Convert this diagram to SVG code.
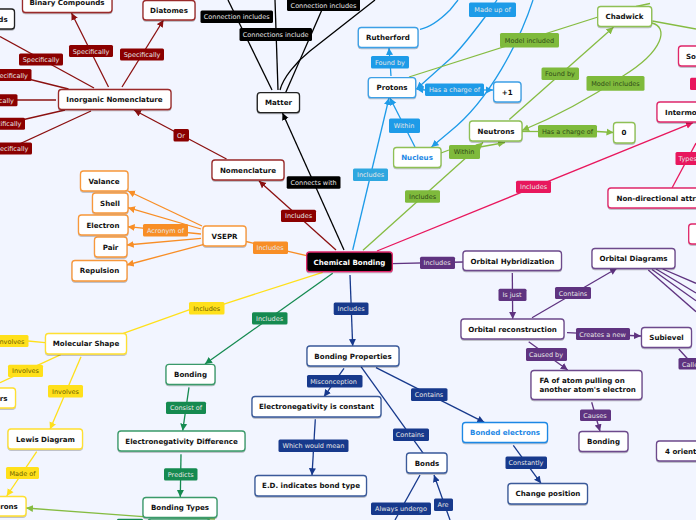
<svg xmlns="http://www.w3.org/2000/svg" width="696" height="520" viewBox="0 0 696 520">
<style>
text{font-family:"DejaVu Sans","Liberation Sans",sans-serif;font-size:6.5px;text-anchor:middle}
.n rect{fill:#fff;stroke-width:1.3;filter:url(#sh)}
.n text{font-weight:700;fill:#111;font-size:7.1px}
.l text{fill:#e6e6e6}
.c path{fill:none;stroke-width:1.3}
.red rect{stroke:#9a2a2a}.blk rect{stroke:#222}.blu rect{stroke:#3ea0e6}.grn rect{stroke:#8fc054}.pnk rect{stroke:#e0286b}.org rect{stroke:#f8983a}.ylw rect{stroke:#ffe030}.dgn rect{stroke:#3a9a6a}.nav rect{stroke:#3a5a9a}.pur rect{stroke:#6d4a8c}
.l.red rect{fill:#8b0000;stroke:none}.l.blk rect{fill:#000;stroke:none}.l.blu rect{fill:#1e9be8;stroke:none}.l.lbl rect{fill:#2ea7e0;stroke:none}.l.grn rect{fill:#7fba3c;stroke:none}.l.pnk rect{fill:#e8175d;stroke:none}.l.org rect{fill:#f88e26;stroke:none}.l.ylw rect{fill:#ffe01b;stroke:none}.l.dgn rect{fill:#158a50;stroke:none}.l.nav rect{fill:#17398c;stroke:none}.l.pur rect{fill:#5f3380;stroke:none}
.l.grn text{fill:#2f4a18}.l.ylw text{fill:#6e6000}
.c .red{stroke:#8b1010}.c .blk{stroke:#000}.c .blu{stroke:#1e9be8}.c .grn{stroke:#86bc42}.c .pnk{stroke:#e8175d}.c .org{stroke:#f88e26}.c .ylw{stroke:#ffe01b}.c .dgn{stroke:#158a50}.c .nav{stroke:#17398c}.c .pur{stroke:#5f3380}
</style>
<defs>
<filter id="sh" x="-10%" y="-20%" width="120%" height="150%"><feDropShadow dx="0" dy="0.8" stdDeviation="0.4" flood-color="#000" flood-opacity="0.35"/></filter>
<marker id="m-red" markerUnits="userSpaceOnUse" markerWidth="8" markerHeight="8" refX="7" refY="4" orient="auto"><path d="M0,0.5L7,4L0,7.5Z" fill="#8b1010"/></marker>
<marker id="m-blk" markerUnits="userSpaceOnUse" markerWidth="8" markerHeight="8" refX="7" refY="4" orient="auto"><path d="M0,0.5L7,4L0,7.5Z" fill="#000"/></marker>
<marker id="m-blu" markerUnits="userSpaceOnUse" markerWidth="8" markerHeight="8" refX="7" refY="4" orient="auto"><path d="M0,0.5L7,4L0,7.5Z" fill="#1e9be8"/></marker>
<marker id="m-grn" markerUnits="userSpaceOnUse" markerWidth="8" markerHeight="8" refX="7" refY="4" orient="auto"><path d="M0,0.5L7,4L0,7.5Z" fill="#86bc42"/></marker>
<marker id="m-pnk" markerUnits="userSpaceOnUse" markerWidth="8" markerHeight="8" refX="7" refY="4" orient="auto"><path d="M0,0.5L7,4L0,7.5Z" fill="#e8175d"/></marker>
<marker id="m-org" markerUnits="userSpaceOnUse" markerWidth="8" markerHeight="8" refX="7" refY="4" orient="auto"><path d="M0,0.5L7,4L0,7.5Z" fill="#f88e26"/></marker>
<marker id="m-ylw" markerUnits="userSpaceOnUse" markerWidth="8" markerHeight="8" refX="7" refY="4" orient="auto"><path d="M0,0.5L7,4L0,7.5Z" fill="#ffe01b"/></marker>
<marker id="m-dgn" markerUnits="userSpaceOnUse" markerWidth="8" markerHeight="8" refX="7" refY="4" orient="auto"><path d="M0,0.5L7,4L0,7.5Z" fill="#158a50"/></marker>
<marker id="m-nav" markerUnits="userSpaceOnUse" markerWidth="8" markerHeight="8" refX="7" refY="4" orient="auto"><path d="M0,0.5L7,4L0,7.5Z" fill="#17398c"/></marker>
<marker id="m-pur" markerUnits="userSpaceOnUse" markerWidth="8" markerHeight="8" refX="7" refY="4" orient="auto"><path d="M0,0.5L7,4L0,7.5Z" fill="#5f3380"/></marker>
</defs>
<rect width="696" height="520" fill="#f2f5ff"/>
<g id="connectors" class="c">
<path class="red" d="M336 250L259 181" marker-end="url(#m-red)"/>
<path class="red" d="M226.500 159L134 110" marker-end="url(#m-red)"/>
<path class="red" d="M108.500 87L71.500 13" marker-end="url(#m-red)"/>
<path class="red" d="M122 87L163.500 20" marker-end="url(#m-red)"/>
<path class="red" d="M94 88L0 36.500"/>
<path class="red" d="M68.500 89L0 72"/>
<path class="red" d="M56 100L0 100"/>
<path class="red" d="M65 110L0 125"/>
<path class="red" d="M91 111L0 153"/>
<path class="blk" d="M344 250L282.500 113" marker-end="url(#m-blk)"/>
<path class="blk" d="M272 90L228 0"/>
<path class="blk" d="M278 90L275 0"/>
<path class="blk" d="M285.700 92.500L335 -20"/>
<path class="blk" d="M280 90C283 78 296 62 310 51L375 0"/>
<path class="blu" d="M352.700 250L389 98" marker-end="url(#m-blu)"/>
<path class="blu" d="M415 147L390 98" marker-end="url(#m-blu)"/>
<path class="blu" d="M391 76L389 48" marker-end="url(#m-blu)"/>
<path class="blu" d="M425 90L416.500 89" marker-end="url(#m-blu)"/>
<path class="blu" d="M484 90L493 90" marker-end="url(#m-blu)"/>
<path class="blu" d="M497 0L485 17C473 33 460 50 450 59L416.500 89" marker-end="url(#m-blu)"/>
<path class="blu" d="M533 0C520 40 490 100 450 131.500L431.500 147" marker-end="url(#m-blu)"/>
<path class="blu" d="M420 29.300C432 27 442 18 450 10L458 0"/>
<path class="grn" d="M363 250.300L483 142.500" marker-end="url(#m-grn)"/>
<path class="grn" d="M441 153L449 150"/>
<path class="grn" d="M480 147L505 142.500" marker-end="url(#m-grn)"/>
<path class="grn" d="M598 17L409 77"/>
<path class="grn" d="M509.300 119.500L613.500 27.300" marker-end="url(#m-grn)"/>
<path class="grn" d="M652 23C668 27 665 50 623 76C590 98 560 115 522 130.500" marker-end="url(#m-grn)"/>
<path class="grn" d="M652.300 21L696 29"/>
<path class="grn" d="M636 6.500L650 3.500"/>
<path class="grn" d="M522 131.500L538 131.500"/>
<path class="grn" d="M597 131.500L613.500 132.500" marker-end="url(#m-grn)"/>
<path class="grn" d="M215 519L143 516.700L26 508" marker-end="url(#m-grn)"/>
<path class="pnk" d="M377 251L693 122.700" marker-end="url(#m-pnk)"/>
<path class="pnk" d="M672 188L696 143"/>
<path class="org" d="M306.700 255.700L246 241.500"/>
<path class="org" d="M202 226L128 191" marker-end="url(#m-org)"/>
<path class="org" d="M201 229L128 207.700" marker-end="url(#m-org)"/>
<path class="org" d="M201 234L127.700 226.700" marker-end="url(#m-org)"/>
<path class="org" d="M201 238.300L126.700 245" marker-end="url(#m-org)"/>
<path class="org" d="M204 244.300L126.700 265" marker-end="url(#m-org)"/>
<path class="ylw" d="M322.700 272.300L224 304L189 310L123.300 333.300"/>
<path class="ylw" d="M45 342.700L28 341"/>
<path class="ylw" d="M60.700 354.700L0 382.700"/>
<path class="ylw" d="M81 356.700L50 429.300" marker-end="url(#m-ylw)"/>
<path class="ylw" d="M36.700 451.700L6.700 496" marker-end="url(#m-ylw)"/>
<path class="dgn" d="M332.700 273.300L205 364" marker-end="url(#m-dgn)"/>
<path class="dgn" d="M189 387.300L182.700 430.700" marker-end="url(#m-dgn)"/>
<path class="dgn" d="M181 454.300L180.300 497" marker-end="url(#m-dgn)"/>
<path class="nav" d="M350 275L352.700 346" marker-end="url(#m-nav)"/>
<path class="nav" d="M344 368.300L324 396.700" marker-end="url(#m-nav)"/>
<path class="nav" d="M315.300 419.300L312 475.300" marker-end="url(#m-nav)"/>
<path class="nav" d="M376 367.700L484.300 422.300" marker-end="url(#m-nav)"/>
<path class="nav" d="M361 366.700L423.300 453.300"/>
<path class="nav" d="M513.300 445.300L541 483.300" marker-end="url(#m-nav)"/>
<path class="nav" d="M420 475L395 520"/>
<path class="nav" d="M450 520L434 475" marker-end="url(#m-nav)"/>
<path class="pur" d="M392 263.700L463 262"/>
<path class="pur" d="M512.300 273L512.700 319" marker-end="url(#m-pur)"/>
<path class="pur" d="M532 317.700L617 268.300" marker-end="url(#m-pur)"/>
<path class="pur" d="M567 332.700L641 336" marker-end="url(#m-pur)"/>
<path class="pur" d="M528.700 341.700L567.700 370" marker-end="url(#m-pur)"/>
<path class="pur" d="M591.700 402.300L600 431.300" marker-end="url(#m-pur)"/>
<path class="pur" d="M662.700 269L696 283.300"/>
<path class="pur" d="M656 269L696 293"/>
<path class="pur" d="M652 269.500L696 300.700"/>
<path class="pur" d="M648.300 270L696 311.700"/>
<path class="pur" d="M678.700 349L696 368"/>
</g>
<g id="edge-labels">
<g class="l red"><rect x="19" y="53.500" width="44" height="12" rx="1.500"/><text x="41" y="62">Specifically</text></g>
<g class="l red"><rect x="69" y="45" width="44" height="12" rx="1.500"/><text x="91" y="53.500">Specifically</text></g>
<g class="l red"><rect x="120" y="48.500" width="44" height="12" rx="1.500"/><text x="142" y="57">Specifically</text></g>
<g class="l red"><rect x="-12.500" y="69" width="44" height="12" rx="1.500"/><text x="9.500" y="77.500">Specifically</text></g>
<g class="l red"><rect x="-26.500" y="94.300" width="44" height="12" rx="1.500"/><text x="-4.500" y="102.800">Specifically</text></g>
<g class="l red"><rect x="-19" y="117.800" width="44" height="12" rx="1.500"/><text x="3" y="126.300">Specifically</text></g>
<g class="l red"><rect x="-12" y="142.500" width="44" height="12" rx="1.500"/><text x="10" y="151">Specifically</text></g>
<g class="l red"><rect x="173.500" y="129" width="15.500" height="12.500" rx="1.500"/><text x="181" y="137.800">Or</text></g>
<g class="l red"><rect x="281" y="209.700" width="35" height="12.300" rx="1.500"/><text x="298.500" y="218.200">Includes</text></g>
<g class="l blk"><rect x="200.500" y="10.500" width="72.500" height="12.500" rx="1.500"/><text x="236.700" y="19">Connection includes</text></g>
<g class="l blk"><rect x="239.500" y="28" width="72.500" height="13" rx="1.500"/><text x="275.700" y="36.800">Connections include</text></g>
<g class="l blk"><rect x="287" y="-1" width="73" height="12" rx="1.500"/><text x="323.500" y="7.800">Connection includes</text></g>
<g class="l blk"><rect x="286.700" y="176.300" width="53.800" height="12.400" rx="1.500"/><text x="313.600" y="184.800">Connects with</text></g>
<g class="l blu"><rect x="371" y="56" width="38" height="12.500" rx="1.500"/><text x="390" y="64.700">Found by</text></g>
<g class="l blu"><rect x="389" y="118.500" width="31" height="14.500" rx="1.500"/><text x="404" y="128">Within</text></g>
<g class="l blu"><rect x="425" y="83.500" width="59" height="12.500" rx="1.500"/><text x="454.500" y="92.200">Has a charge of</text></g>
<g class="l blu"><rect x="469" y="2.500" width="47" height="14.500" rx="1.500"/><text x="492.500" y="12">Made up of</text></g>
<g class="l lbl"><rect x="353" y="168.500" width="35" height="12.500" rx="1.500"/><text x="370.500" y="177">Includes</text></g>
<g class="l grn"><rect x="500" y="33" width="59" height="14.500" rx="1.500"/><text x="529.500" y="42.500">Model included</text></g>
<g class="l grn"><rect x="541.500" y="67.500" width="37.500" height="12.500" rx="1.500"/><text x="560" y="76">Found by</text></g>
<g class="l grn"><rect x="586.500" y="76" width="58" height="14.700" rx="1.500"/><text x="615.500" y="85.600">Model includes</text></g>
<g class="l grn"><rect x="538" y="125" width="59" height="12.500" rx="1.500"/><text x="567.500" y="133.700">Has a charge of</text></g>
<g class="l grn"><rect x="449" y="145" width="31" height="14" rx="1.500"/><text x="464" y="154">Within</text></g>
<g class="l grn"><rect x="405" y="190.300" width="35" height="12.400" rx="1.500"/><text x="422.500" y="199">Includes</text></g>
<g class="l pnk"><rect x="516" y="180.700" width="35" height="12.300" rx="1.500"/><text x="533.500" y="189.200">Includes</text></g>
<g class="l pnk"><rect x="690" y="77.700" width="20" height="12.300" rx="1.500"/></g>
<g class="l pnk"><rect x="675.500" y="152" width="40" height="13" rx="1.500"/><text x="678.500" y="161" style="text-anchor:start">Types</text></g>
<g class="l org"><rect x="253" y="241.500" width="35" height="12.500" rx="1.500"/><text x="270" y="250">Includes</text></g>
<g class="l org"><rect x="143" y="224" width="45" height="12.500" rx="1.500"/><text x="165.500" y="232.700">Acronym of</text></g>
<g class="l ylw"><rect x="189" y="302" width="35.500" height="12.500" rx="1.500"/><text x="206.700" y="310.700">Includes</text></g>
<g class="l ylw"><rect x="-6.500" y="335" width="35" height="12" rx="1.500"/><text x="11" y="343.500">Involves</text></g>
<g class="l ylw"><rect x="8" y="364.700" width="35" height="12.300" rx="1.500"/><text x="25.500" y="373.200">Involves</text></g>
<g class="l ylw"><rect x="48" y="385" width="35" height="12.500" rx="1.500"/><text x="65.500" y="394">Involves</text></g>
<g class="l ylw"><rect x="6" y="467" width="33" height="12" rx="1.500"/><text x="22.500" y="475.500">Made of</text></g>
<g class="l dgn"><rect x="252" y="312.300" width="35.500" height="12.200" rx="1.500"/><text x="269.500" y="320.800">Includes</text></g>
<g class="l dgn"><rect x="166" y="401.700" width="40" height="12.300" rx="1.500"/><text x="186" y="410.200">Consist of</text></g>
<g class="l dgn"><rect x="164" y="468.300" width="33.500" height="12.200" rx="1.500"/><text x="180.700" y="476.800">Predicts</text></g>
<g class="l dgn"><rect x="117" y="518.700" width="26" height="5" rx="1.500"/></g>
<g class="l nav"><rect x="333.700" y="302.500" width="34.800" height="12.500" rx="1.500"/><text x="351" y="311">Includes</text></g>
<g class="l nav"><rect x="307" y="375" width="55.500" height="12.500" rx="1.500"/><text x="333.500" y="383.500">Misconception</text></g>
<g class="l nav"><rect x="278.500" y="439.500" width="70" height="12.500" rx="1.500"/><text x="313.500" y="448">Which would mean</text></g>
<g class="l nav"><rect x="411" y="388.300" width="36.500" height="12.700" rx="1.500"/><text x="429" y="397">Contains</text></g>
<g class="l nav"><rect x="393" y="428.500" width="36" height="12.500" rx="1.500"/><text x="410" y="437">Contains</text></g>
<g class="l nav"><rect x="371" y="502.500" width="60" height="12.500" rx="1.500"/><text x="401" y="511">Always undergo</text></g>
<g class="l nav"><rect x="434" y="498.500" width="19" height="12.500" rx="1.500"/><text x="443" y="507">Are</text></g>
<g class="l nav"><rect x="505.500" y="456.500" width="41.500" height="12.500" rx="1.500"/><text x="526" y="465">Constantly</text></g>
<g class="l pur"><rect x="420" y="256.700" width="35" height="12.300" rx="1.500"/><text x="437" y="265.300">Includes</text></g>
<g class="l pur"><rect x="498.500" y="288.700" width="28" height="12.300" rx="1.500"/><text x="512" y="297.300">Is just</text></g>
<g class="l pur"><rect x="555" y="287" width="36" height="12" rx="1.500"/><text x="573" y="295.500">Contains</text></g>
<g class="l pur"><rect x="576" y="328" width="54" height="12" rx="1.500"/><text x="602.500" y="336.500">Creates a new</text></g>
<g class="l pur"><rect x="526" y="348" width="41" height="13" rx="1.500"/><text x="546" y="357">Caused by</text></g>
<g class="l pur"><rect x="580" y="409.500" width="31" height="11.500" rx="1.500"/><text x="595" y="418">Causes</text></g>
<g class="l pur"><rect x="678.500" y="358" width="40" height="11.500" rx="1.500"/><text x="682" y="366.500" style="text-anchor:start">Calle</text></g>
</g>
<g id="chemical-bonding" class="n pnk"><rect x="306.700" y="252" width="85.600" height="19.700" rx="3" style="fill:#000"/><text x="349.500" y="264.500" style="fill:#fff">Chemical Bonding</text></g>
<g id="binary-compounds" class="n red"><rect x="22.500" y="-6" width="89.500" height="18.500" rx="3"/><text x="67" y="5">Binary Compounds</text></g>
<g id="diatomes" class="n red"><rect x="143" y="0.500" width="52" height="19.500" rx="3"/><text x="169" y="13">Diatomes</text></g>
<g id="ds" class="n blk"><rect x="-30" y="9" width="44.500" height="20" rx="3"/><text x="3" y="22">ds</text></g>
<g id="inorganic-nomenclature" class="n red"><rect x="58.500" y="89.500" width="112.500" height="20" rx="3"/><text x="114.500" y="102">Inorganic Nomenclature</text></g>
<g id="nomenclature" class="n red"><rect x="212" y="160" width="72" height="20" rx="3"/><text x="248" y="172.500">Nomenclature</text></g>
<g id="matter" class="n blk"><rect x="257.300" y="92.700" width="42.200" height="19.900" rx="3"/><text x="278.500" y="105">Matter</text></g>
<g id="rutherford" class="n blu"><rect x="358.300" y="27.500" width="59.700" height="20" rx="3"/><text x="388" y="40">Rutherford</text></g>
<g id="protons" class="n blu"><rect x="368.300" y="77.700" width="47.400" height="20" rx="3"/><text x="392" y="90">Protons</text></g>
<g id="nucleus" class="n grn"><rect x="393.600" y="147.500" width="47.400" height="20" rx="3"/><text x="417" y="160" style="fill:#1e88e5">Nucleus</text></g>
<g id="plus-one" class="n blu"><rect x="493.600" y="82" width="27.400" height="20" rx="3"/><text x="507.300" y="94.500">+1</text></g>
<g id="chadwick" class="n grn"><rect x="597.700" y="6.500" width="54" height="20" rx="3"/><text x="624.500" y="19">Chadwick</text></g>
<g id="neutrons" class="n grn"><rect x="469.500" y="121" width="52.500" height="20" rx="3"/><text x="496" y="133.500">Neutrons</text></g>
<g id="zero" class="n grn"><rect x="613.500" y="122.500" width="21.500" height="20.500" rx="3"/><text x="624" y="135">0</text></g>
<g id="so" class="n pnk"><rect x="678.500" y="46" width="40" height="20" rx="3"/><text x="686" y="58.500" style="text-anchor:start">So</text></g>
<g id="intermo" class="n pnk"><rect x="657" y="102" width="60" height="20" rx="3"/><text x="665" y="114.500" style="text-anchor:start">Intermo</text></g>
<g id="non-directional" class="n pnk"><rect x="608" y="188" width="110" height="20" rx="3"/><text x="616.500" y="200.500" style="text-anchor:start">Non-directional attra</text></g>
<g id="pink-edge" class="n pnk"><rect x="688.700" y="224" width="30" height="20" rx="3"/></g>
<g id="vsepr" class="n org"><rect x="203" y="226" width="43" height="20" rx="3"/><text x="224.500" y="238.500">VSEPR</text></g>
<g id="valance" class="n org"><rect x="80.500" y="171" width="47.500" height="20" rx="3"/><text x="104" y="183.500">Valance</text></g>
<g id="shell" class="n org"><rect x="92.500" y="193" width="35.500" height="20" rx="3"/><text x="110" y="205.500">Shell</text></g>
<g id="electron" class="n org"><rect x="78.500" y="215" width="49.500" height="20" rx="3"/><text x="103" y="227.500">Electron</text></g>
<g id="pair" class="n org"><rect x="94.500" y="237" width="32.500" height="20" rx="3"/><text x="110.500" y="249.500">Pair</text></g>
<g id="repulsion" class="n org"><rect x="72" y="260.500" width="55" height="20.500" rx="3"/><text x="99.500" y="273">Repulsion</text></g>
<g id="molecular-shape" class="n ylw"><rect x="45.500" y="333.500" width="81" height="20.500" rx="3"/><text x="86" y="346">Molecular Shape</text></g>
<g id="rs" class="n ylw"><rect x="-30" y="388" width="45.500" height="20" rx="3"/><text x="3.500" y="400.500">rs</text></g>
<g id="lewis-diagram" class="n ylw"><rect x="8" y="429" width="74.500" height="20" rx="3"/><text x="45.500" y="441.500">Lewis Diagram</text></g>
<g id="rons" class="n ylw"><rect x="-30" y="496.500" width="56" height="19.500" rx="3"/><text x="9" y="509">rons</text></g>
<g id="bonding-green" class="n dgn"><rect x="166" y="364.300" width="49" height="20.200" rx="3"/><text x="190.500" y="377">Bonding</text></g>
<g id="en-difference" class="n dgn"><rect x="118" y="431" width="127" height="20" rx="3"/><text x="181.500" y="443.500">Electronegativity Difference</text></g>
<g id="bonding-types" class="n dgn"><rect x="143" y="497.500" width="74" height="20" rx="3"/><text x="180" y="510">Bonding Types</text></g>
<g id="dgn-edge" class="n dgn"><rect x="148" y="519" width="62" height="20" rx="3"/></g>
<g id="bonding-properties" class="n nav"><rect x="307" y="346" width="92" height="20" rx="3"/><text x="353" y="358.500">Bonding Properties</text></g>
<g id="en-constant" class="n nav"><rect x="252" y="396.500" width="129" height="20.500" rx="3"/><text x="316.500" y="409">Electronegativity is constant</text></g>
<g id="ed-bond-type" class="n nav"><rect x="255" y="475.500" width="111.500" height="20.500" rx="3"/><text x="311" y="488">E.D. indicates bond type</text></g>
<g id="bonds" class="n nav"><rect x="406.500" y="453" width="40.500" height="20" rx="3"/><text x="427" y="465.500">Bonds</text></g>
<g id="bonded-electrons" class="n blu"><rect x="462.500" y="422.500" width="85" height="20" rx="3" style="stroke:#1e88e5"/><text x="505" y="435" style="fill:#1e88e5">Bonded electrons</text></g>
<g id="change-position" class="n nav"><rect x="508" y="483.500" width="79.500" height="20.500" rx="3"/><text x="548" y="496">Change position</text></g>
<g id="orbital-hybridization" class="n pur"><rect x="463" y="251" width="98.500" height="19.500" rx="3"/><text x="512.500" y="263.500">Orbital Hybridization</text></g>
<g id="orbital-diagrams" class="n pur"><rect x="592" y="248.500" width="83" height="20" rx="3"/><text x="633.500" y="261">Orbital Diagrams</text></g>
<g id="orbital-reconstruction" class="n pur"><rect x="461" y="319" width="103" height="20" rx="3"/><text x="512.500" y="331.500">Orbital reconstruction</text></g>
<g id="subievel" class="n pur"><rect x="641.500" y="327.500" width="50" height="20" rx="3"/><text x="666.500" y="340">Subievel</text></g>
<g id="fa-of-atom" class="n pur"><rect x="531" y="370.500" width="111" height="29" rx="3"/><text x="539.500" y="383" style="text-anchor:start">FA of atom pulling on</text><text x="539.500" y="392" style="text-anchor:start">another atom's electron</text></g>
<g id="bonding-purple" class="n pur"><rect x="579" y="431.500" width="49" height="20" rx="3"/><text x="603.500" y="444">Bonding</text></g>
<g id="four-orient" class="n pur"><rect x="656.500" y="441" width="60" height="20" rx="3"/><text x="665" y="453.500" style="text-anchor:start">4 orient</text></g>
</svg>
